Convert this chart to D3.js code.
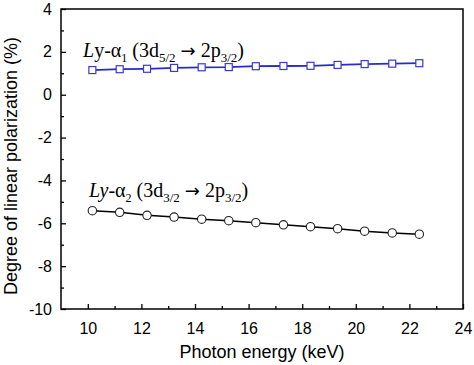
<!DOCTYPE html>
<html lang="en">
<head>
<meta charset="UTF-8">
<title>Polarization</title>
<script src="https://d3js.org/d3.v7.min.js"></script>
<style>
  body { margin: 0; background: #fff; }
  svg { display: block; }
  .tick text { font-family: "Liberation Sans", Arial, sans-serif; font-size: 16px; fill: #000; }
  .axis-title { font-family: "Liberation Sans", Arial, sans-serif; font-size: 18px; fill: #000; }
  .note { font-family: "Liberation Serif", "Times New Roman", serif; font-size: 20px; fill: #000; }
</style>
</head>
<body>
<svg id="chart" width="474" height="365"></svg>
<script>
// photon energy (keV)
var energy = [10.17, 11.19, 12.21, 13.22, 14.25, 15.26, 16.27, 17.30, 18.31, 19.32, 20.33, 21.36, 22.37];
// Ly-alpha1 (3d5/2 -> 2p3/2)
var alpha1 = [1.15, 1.19, 1.21, 1.25, 1.28, 1.29, 1.33, 1.34, 1.35, 1.39, 1.43, 1.45, 1.47];
// Ly-alpha2 (3d3/2 -> 2p3/2)
var alpha2 = [-5.41, -5.49, -5.63, -5.71, -5.81, -5.88, -5.97, -6.07, -6.16, -6.25, -6.37, -6.45, -6.51];

var xTicks = [10, 12, 14, 16, 18, 20, 22, 24];
var xMinor = [11, 13, 15, 17, 19, 21, 23];
var yTicks = [4, 2, 0, -2, -4, -6, -8, -10];
var yMinor = [3, 1, -1, -3, -5, -7, -9];

var svg = d3.select("#chart");
var mLeft = 61, mRight = 463, mTop = 9, mBottom = 309;

var x = d3.scaleLinear().domain([9, 24]).range([mLeft, mRight]);
var y = d3.scaleLinear().domain([-10, 4]).range([mBottom, mTop]);

// frame
svg.append("rect")
  .attr("x", mLeft).attr("y", mTop)
  .attr("width", mRight - mLeft).attr("height", mBottom - mTop)
  .attr("fill", "none").attr("stroke", "#000").attr("stroke-width", 1.5);

// x axis, ticks inward
var plain = function (d) { return String(d); };
var xAxis = svg.append("g").attr("transform", "translate(0," + mBottom + ")")
  .call(d3.axisBottom(x).tickValues(xTicks).tickSize(-5).tickPadding(10).tickFormat(plain));
svg.append("g").attr("transform", "translate(0," + mBottom + ")")
  .call(d3.axisBottom(x).tickValues(xMinor).tickSize(-3).tickFormat(""));

var yAxis = svg.append("g").attr("transform", "translate(" + mLeft + ",0)")
  .call(d3.axisLeft(y).tickValues(yTicks).tickSize(-5).tickPadding(9).tickFormat(plain));
svg.append("g").attr("transform", "translate(" + mLeft + ",0)")
  .call(d3.axisLeft(y).tickValues(yMinor).tickSize(-3).tickFormat(""));

svg.selectAll(".domain").remove();
svg.selectAll(".tick line").attr("stroke", "#000").attr("stroke-width", 1.3);
xAxis.selectAll(".tick text").attr("dy", "0.95em");

// axis titles
svg.append("text").attr("class", "axis-title")
  .attr("x", 262).attr("y", 358).attr("text-anchor", "middle")
  .text("Photon energy (keV)");
svg.append("text").attr("class", "axis-title")
  .attr("transform", "translate(17,166) rotate(-90)").attr("text-anchor", "middle")
  .text("Degree of linear polarization (%)");

var line = d3.line().x(function (d) { return x(d[0]); }).y(function (d) { return y(d[1]); });
var pts1 = energy.map(function (e, i) { return [e, alpha1[i]]; });
var pts2 = energy.map(function (e, i) { return [e, alpha2[i]]; });

svg.append("path").datum(pts1).attr("d", line)
  .attr("fill", "none").attr("stroke", "#2a2acc").attr("stroke-width", 1.8);
svg.selectAll(".sq").data(pts1).enter().append("rect")
  .attr("x", function (d) { return x(d[0]) - 3.5; })
  .attr("y", function (d) { return y(d[1]) - 3.5; })
  .attr("width", 7).attr("height", 7)
  .attr("fill", "#fff").attr("stroke", "#3a3acc").attr("stroke-width", 1.2);

svg.append("path").datum(pts2).attr("d", line)
  .attr("fill", "none").attr("stroke", "#000").attr("stroke-width", 1.5);
svg.selectAll(".ci").data(pts2).enter().append("circle")
  .attr("cx", function (d) { return x(d[0]); })
  .attr("cy", function (d) { return y(d[1]); })
  .attr("r", 4.2)
  .attr("fill", "#fff").attr("stroke", "#222").attr("stroke-width", 1.1);

// annotations
function note(tx, ty, yItalic, sub) {
  var t = svg.append("text").attr("class", "note").attr("x", tx).attr("y", ty);
  t.append("tspan").attr("font-style", "italic").text("L");
  t.append("tspan").attr("font-style", yItalic ? "italic" : "normal").text("y");
  t.append("tspan").text("-\u03b1");
  t.append("tspan").attr("font-size", "12px").attr("dy", 5).text(sub[0]);
  t.append("tspan").attr("dy", -5).text(" (3d");
  t.append("tspan").attr("font-size", "13px").attr("dy", 5).text(sub[1]);
  t.append("tspan").attr("dy", -5).text(" ");
  t.append("tspan").attr("font-family", "DejaVu Sans").attr("font-size", "18px").text("\u2192");
  t.append("tspan").text(" 2p");
  t.append("tspan").attr("font-size", "13px").attr("dy", 5).text("3/2");
  t.append("tspan").attr("dy", -5).text(")");
}
note(83, 57, false, ["1", "5/2"]);
note(89, 197, true, ["2", "3/2"]);
</script>
</body>
</html>
